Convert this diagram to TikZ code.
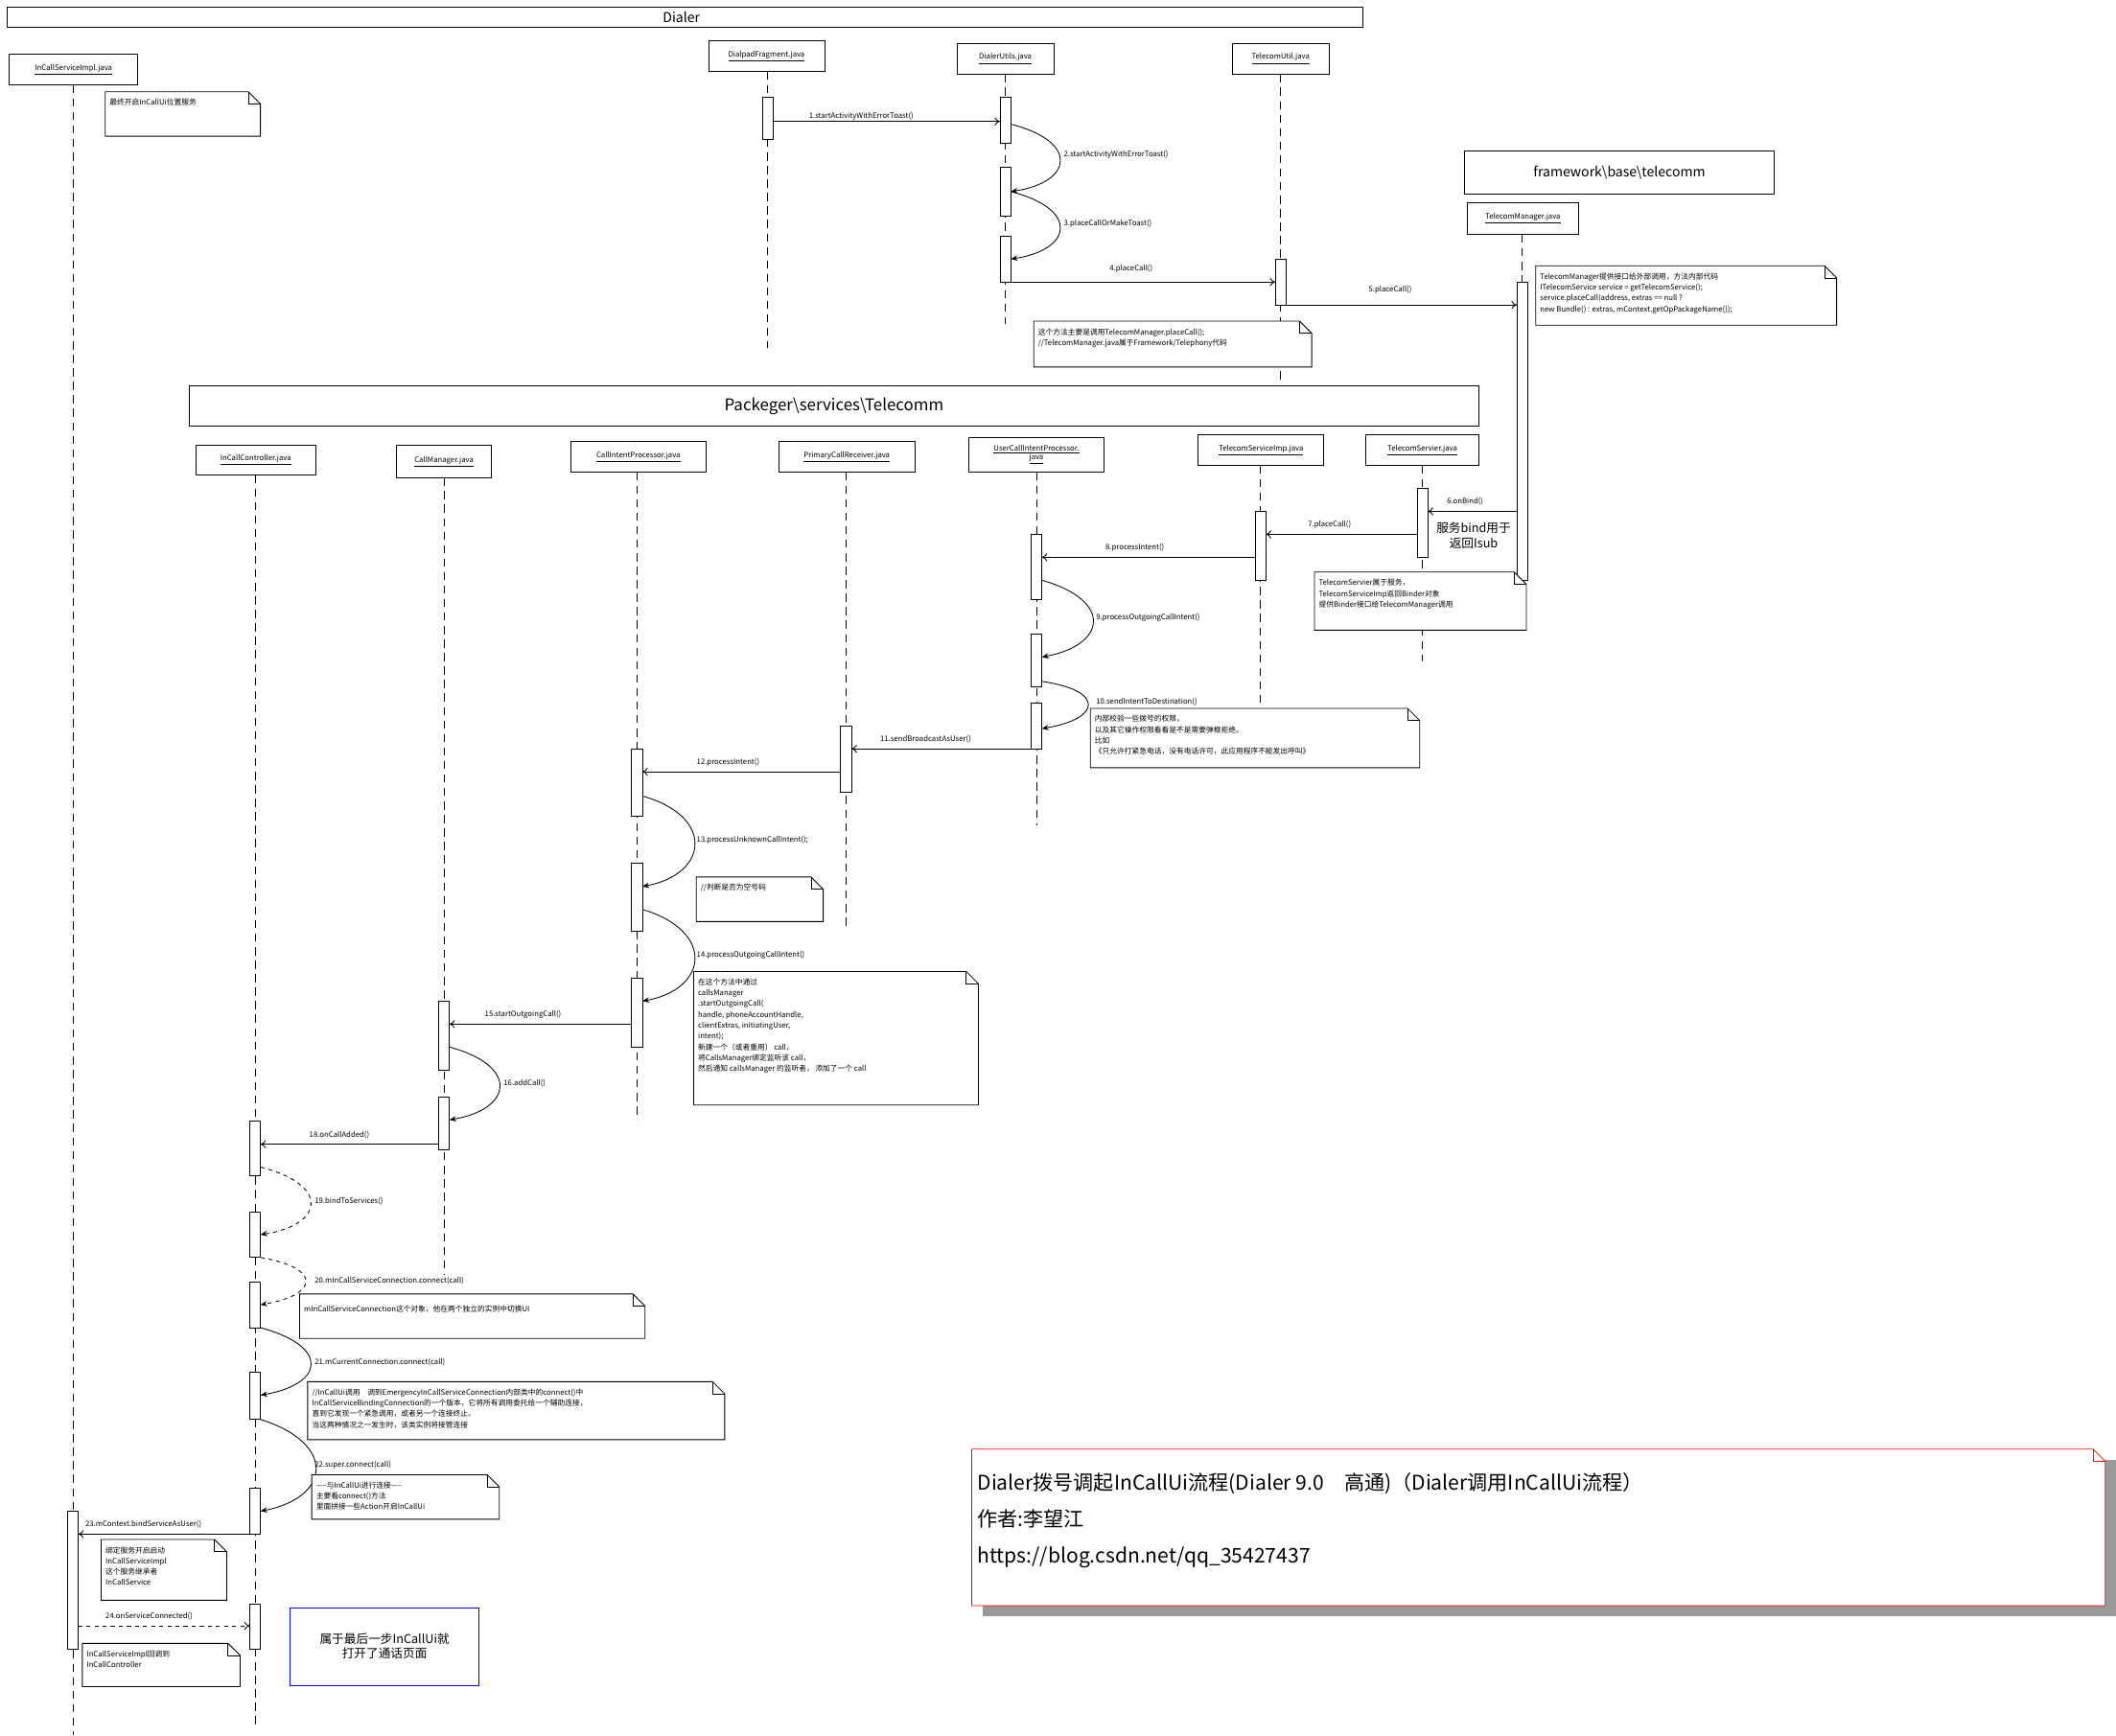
\documentclass[tikz,border=0pt]{standalone}
\usepackage{fontspec}
\setmainfont{Noto Sans CJK SC}
\usetikzlibrary{arrows.meta}
\newcommand\hb[5]{\draw (#1,#2) rectangle (#3,#4); \node[font=\fontsize{5.5}{6.5}\selectfont,align=center] at ({(#1+#3)/2},{(#2+#4)/2}) {#5};}
\newcommand\nb[6]{\draw[fill=white] (#1,#2) -- ({#3-9},#2) -- (#3,{#2+9}) -- (#3,#4) -- (#1,#4) -- cycle; \draw ({#3-9},#2) -- ({#3-9},{#2+9}) -- (#3,{#2+9}); \node[anchor=north west,inner sep=0pt,align=left,font=\fontsize{5.5}{8}\selectfont] (#5) at ({#1+3},{#2+5}) {#6};}
\newcommand\act[5]{\draw[fill=white] (#1,#2) rectangle (#3,#4); \coordinate (#5) at ({(#1+#3)/2},#2);}
\begin{document}
\begin{tikzpicture}[x=1pt,y=-1pt,line width=0.6pt,
 life/.style={dash pattern=on 6pt off 4pt},
 msg/.style={-{To[length=4pt,width=6pt]}},
 selfm/.style={-{Stealth[length=5pt,width=4pt]}},
 lbl/.style={font=\fontsize{5.5}{6.5}\selectfont,anchor=south west,inner sep=1pt}]
\useasboundingbox (0,0) rectangle (1568,1286);
% frames
\draw (5,5) rectangle (1010,20); \node[font=\fontsize{10}{11}\selectfont] (tD) at (505,12.5) {Dialer};
\draw (1085,112) rectangle (1315,144); \node[font=\fontsize{10}{11}\selectfont] (tF) at (1200,128) {framework\textbackslash base\textbackslash telecomm};
\draw (140,286) rectangle (1096,316); \node[font=\fontsize{12}{13}\selectfont] (tP) at (618,301) {Packeger\textbackslash services\textbackslash Telecomm};
% lifelines
\draw[life] (54,63) -- (54,1286);
\draw[life] (569,53) -- (569,258);
\draw[life] (745,55) -- (745,240);
\draw[life] (949,55) -- (949,285);
\draw[life] (1128,174) -- (1128,430);
\draw[life] (189,352) -- (189,1278);
\draw[life] (329,354) -- (329,945);
\draw[life] (472,350) -- (472,830);
\draw[life] (627,350) -- (627,688);
\draw[life] (768,350) -- (768,612);
\draw[life] (934,345) -- (934,522);
\draw[life] (1054,345) -- (1054,490);
% heads
\hb{7}{40}{102}{63}{\underline{InCallServiceImpl.java}}
\hb{525}{30}{611}{53}{\underline{DialpadFragment.java}}
\hb{709}{32}{781}{55}{\underline{DialerUtils.java}}
\hb{913}{32}{985}{55}{\underline{TelecomUtil.java}}
\hb{1087}{150}{1170}{174}{\underline{TelecomManager.java}}
\hb{145}{330}{234}{352}{\underline{InCallController.java}}
\hb{294}{330}{364}{354}{\underline{CallManager.java}}
\hb{423}{327}{523}{350}{\underline{CallIntentProcessor.java}}
\hb{577}{327}{678}{350}{\underline{PrimaryCallReceiver.java}}
\hb{718}{324}{818}{350}{\underline{UserCallIntentProcessor.}\\\underline{java}}
\hb{888}{322}{981}{345}{\underline{TelecomServiceImp.java}}
\hb{1012}{322}{1096}{345}{\underline{TelecomServier.java}}
% activations
\act{565}{72}{573}{103}{a1}
\act{741}{72}{749}{106}{a2}
\act{741}{124}{749}{160}{a3}
\act{741}{175}{749}{209}{a4}
\act{945}{192}{953}{226}{a5}
\act{1124}{209}{1132}{430}{a6}
\act{1050}{362}{1058}{413}{a7}
\act{930}{379}{938}{430}{a8}
\act{764}{396}{772}{444}{a9}
\act{764}{470}{772}{509}{a10}
\act{764}{521}{772}{555}{a11}
\act{623}{538}{631}{587}{a12}
\act{468}{555}{476}{605}{a13}
\act{468}{640}{476}{690}{a14}
\act{468}{725}{476}{776}{a15}
\act{325}{742}{333}{793}{a16}
\act{325}{813}{333}{852}{a17}
\act{185}{831}{193}{871}{a18}
\act{185}{898}{193}{932}{a19}
\act{185}{950}{193}{984}{a20}
\act{185}{1017}{193}{1052}{a21}
\act{185}{1103}{193}{1137}{a22}
\act{185}{1189}{193}{1222}{a23}
\act{50}{1120}{58}{1222}{a24}
% messages
\coordinate (p1a) at (573,90); \coordinate (p1b) at (741,90);
\draw[msg] (p1a) -- (p1b) node[lbl,pos=0.15,above right] {1.startActivityWithErrorToast()};
\coordinate (p2a) at (749,92); \coordinate (p2b) at (749,142);
\draw[selfm] (p2a) .. controls (800,105) and (795,135) .. (p2b); \node[lbl] (l2) at (787,119) {2.startActivityWithErrorToast()};
\coordinate (p3a) at (749,142); \coordinate (p3b) at (749,192);
\draw[selfm] (p3a) .. controls (800,155) and (795,185) .. (p3b); \node[lbl] (l3) at (787,170) {3.placeCallOrMakeToast()};
\coordinate (p4a) at (749,209); \coordinate (p4b) at (945,209);
\draw[msg] (p4a) -- (p4b); \node[lbl] (l4) at (821,203) {4.placeCall()};
\coordinate (p5a) at (953,226); \coordinate (p5b) at (1124,226);
\draw[msg] (p5a) -- (p5b); \node[lbl] (l5) at (1013,219) {5.placeCall()};
\coordinate (p6a) at (1124,379); \coordinate (p6b) at (1058,379);
\draw[msg] (p6a) -- (p6b); \node[lbl] (l6) at (1071,376) {6.onBind()};
\node[font=\fontsize{9}{11}\selectfont,align=center] (bind) at (1092,397) {服务bind用于\\返回Isub};
\coordinate (p7a) at (1050,396); \coordinate (p7b) at (938,396);
\draw[msg] (p7a) -- (p7b); \node[lbl] (l7) at (968,393) {7.placeCall()};
\coordinate (p8a) at (930,413); \coordinate (p8b) at (772,413);
\draw[msg] (p8a) -- (p8b); \node[lbl] (l8) at (818,410) {8.processIntent()};
\coordinate (p9a) at (772,430); \coordinate (p9b) at (772,487);
\draw[selfm] (p9a) .. controls (825,445) and (820,478) .. (p9b); \node[lbl] (l9) at (811,462) {9.processOutgoingCallIntent()};
\coordinate (p10a) at (772,505); \coordinate (p10b) at (772,540);
\draw[selfm] (p10a) .. controls (820,512) and (815,533) .. (p10b); \node[lbl] (l10) at (811,524) {10.sendIntentToDestination()};
\coordinate (p11a) at (764,555); \coordinate (p11b) at (631,555);
\draw[msg] (p11a) -- (p11b); \node[lbl] (l11) at (651,552) {11.sendBroadcastAsUser()};
\coordinate (p12a) at (623,572); \coordinate (p12b) at (476,572);
\draw[msg] (p12a) -- (p12b); \node[lbl] (l12) at (515,569) {12.processIntent()};
\coordinate (p13a) at (476,590); \coordinate (p13b) at (476,657);
\draw[selfm] (p13a) .. controls (530,605) and (525,648) .. (p13b); \node[lbl] (l13) at (515,627) {13.processUnknownCallIntent();};
\coordinate (p14a) at (476,674); \coordinate (p14b) at (476,742);
\draw[selfm] (p14a) .. controls (530,690) and (525,733) .. (p14b); \node[lbl] (l14) at (515,712) {14.processOutgoingCallIntent()};
\coordinate (p15a) at (468,759); \coordinate (p15b) at (333,759);
\draw[msg] (p15a) -- (p15b); \node[lbl] (l15) at (358,756) {15.startOutgoingCall()};
\coordinate (p16a) at (333,776); \coordinate (p16b) at (333,830);
\draw[selfm] (p16a) .. controls (385,790) and (380,822) .. (p16b); \node[lbl] (l16) at (372,807) {16.addCall()};
\coordinate (p18a) at (325,848); \coordinate (p18b) at (193,848);
\draw[msg] (p18a) -- (p18b); \node[lbl] (l18) at (228,845) {18.onCallAdded()};
\coordinate (p19a) at (193,865); \coordinate (p19b) at (193,915);
\draw[selfm,dashed] (p19a) .. controls (245,878) and (240,908) .. (p19b); \node[lbl] (l19) at (232,894) {19.bindToServices()};
\coordinate (p20a) at (193,932); \coordinate (p20b) at (193,967);
\draw[selfm,dashed] (p20a) .. controls (240,940) and (235,960) .. (p20b); \node[lbl] (l20) at (232,953) {20.mInCallServiceConnection.connect(call)};
\coordinate (p21a) at (193,984); \coordinate (p21b) at (193,1034);
\draw[selfm] (p21a) .. controls (245,998) and (240,1026) .. (p21b); \node[lbl] (l21) at (232,1014) {21.mCurrentConnection.connect(call)};
\coordinate (p22a) at (193,1052); \coordinate (p22b) at (193,1120);
\draw[selfm] (p22a) .. controls (250,1070) and (245,1110) .. (p22b); \node[lbl] (l22) at (232,1090) {22.super.connect(call)};
\coordinate (p23a) at (185,1137); \coordinate (p23b) at (58,1137);
\draw[msg] (p23a) -- (p23b); \node[lbl] (l23) at (62,1134) {23.mContext.bindServiceAsUser()};
\coordinate (p24a) at (58,1205); \coordinate (p24b) at (185,1205);
\draw[msg,dashed] (p24a) -- (p24b); \node[lbl] (l24) at (77,1202) {24.onServiceConnected()};
% notes
\nb{78}{68}{193}{101}{n1}{最终开启InCallUi位置服务}
\nb{766}{238}{972}{272}{n2}{这个方法主要是调用TelecomManager.placeCall();\\//TelecomManager.java属于Framework/Telephony代码}
\nb{1138}{197}{1361}{241}{n3}{TelecomManager提供接口给外部调用，方法内部代码\\ITelecomService service = getTelecomService();\\ service.placeCall(address, extras == null ?\\new Bundle() : extras, mContext.getOpPackageName());}
\nb{974}{424}{1131}{467}{n4}{TelecomServier属于服务，\\TelecomServiceImp返回Binder对象\\提供Binder接口给TelecomManager调用}
\nb{808}{525}{1052}{569}{n5}{内部校验一些拨号的权限，\\以及其它操作权限看看是不是需要弹框拒绝。\\比如\\《只允许打紧急电话，没有电话许可，此应用程序不能发出呼叫》}
\nb{516}{650}{610}{683}{n6}{//判断是否为空号码}
\nb{514}{720}{725}{819}{n7}{在这个方法中通过\\callsManager\\.startOutgoingCall(\\handle, phoneAccountHandle,\\clientExtras, initiatingUser,\\intent);\\新建一个（或者重用） call，\\ 将CallsManager绑定监听该 call，\\然后通知 callsManager 的监听者， 添加了一个 call}
\nb{222}{959}{478}{992}{n8}{\\mInCallServiceConnection这个对象，他在两个独立的实例中切换UI}
\nb{228}{1024}{537}{1067}{n9}{ //InCallUi调用　调到EmergencyInCallServiceConnection内部类中的connect()中\\InCallServiceBindingConnection的一个版本，它将所有调用委托给一个辅助连接，\\直到它发现一个紧急调用，或者另一个连接终止。\\当这两种情况之一发生时，该类实例将接管连接}
\nb{231}{1093}{370}{1126}{n10}{-----与InCallUi进行连接-----\\主要看connect()方法\\里面拼接一些Action开启InCallUi}
\nb{75}{1141}{168}{1186}{n11}{绑定服务开启启动\\InCallServiceImpl\\这个服务继承者\\InCallService}
\nb{61}{1218}{178}{1250}{n12}{InCallServiceImpl回调到\\InCallController}
% blue box
\draw[blue] (215,1192) rectangle (355,1249);
\node[font=\fontsize{9}{11}\selectfont,align=center] (blue) at (285,1220) {属于最后一步InCallUi就\\打开了通话页面};
% red box
\fill[black!40] (728,1082) rectangle (1568,1198);
\draw[red,fill=white] (720,1074) -- (1551,1074) -- (1560,1083) -- (1560,1190) -- (720,1190) -- cycle;
\draw[red] (1551,1074) -- (1551,1083) -- (1560,1083);
\node[anchor=north west,align=left,inner sep=0pt,font=\fontsize{15}{27}\selectfont] (red) at (724,1091) {Dialer拨号调起InCallUi流程(Dialer 9.0　高通)（Dialer调用InCallUi流程）\\作者:李望江\\https://blog.csdn.net/qq\_35427437};
\end{tikzpicture}
\end{document}
